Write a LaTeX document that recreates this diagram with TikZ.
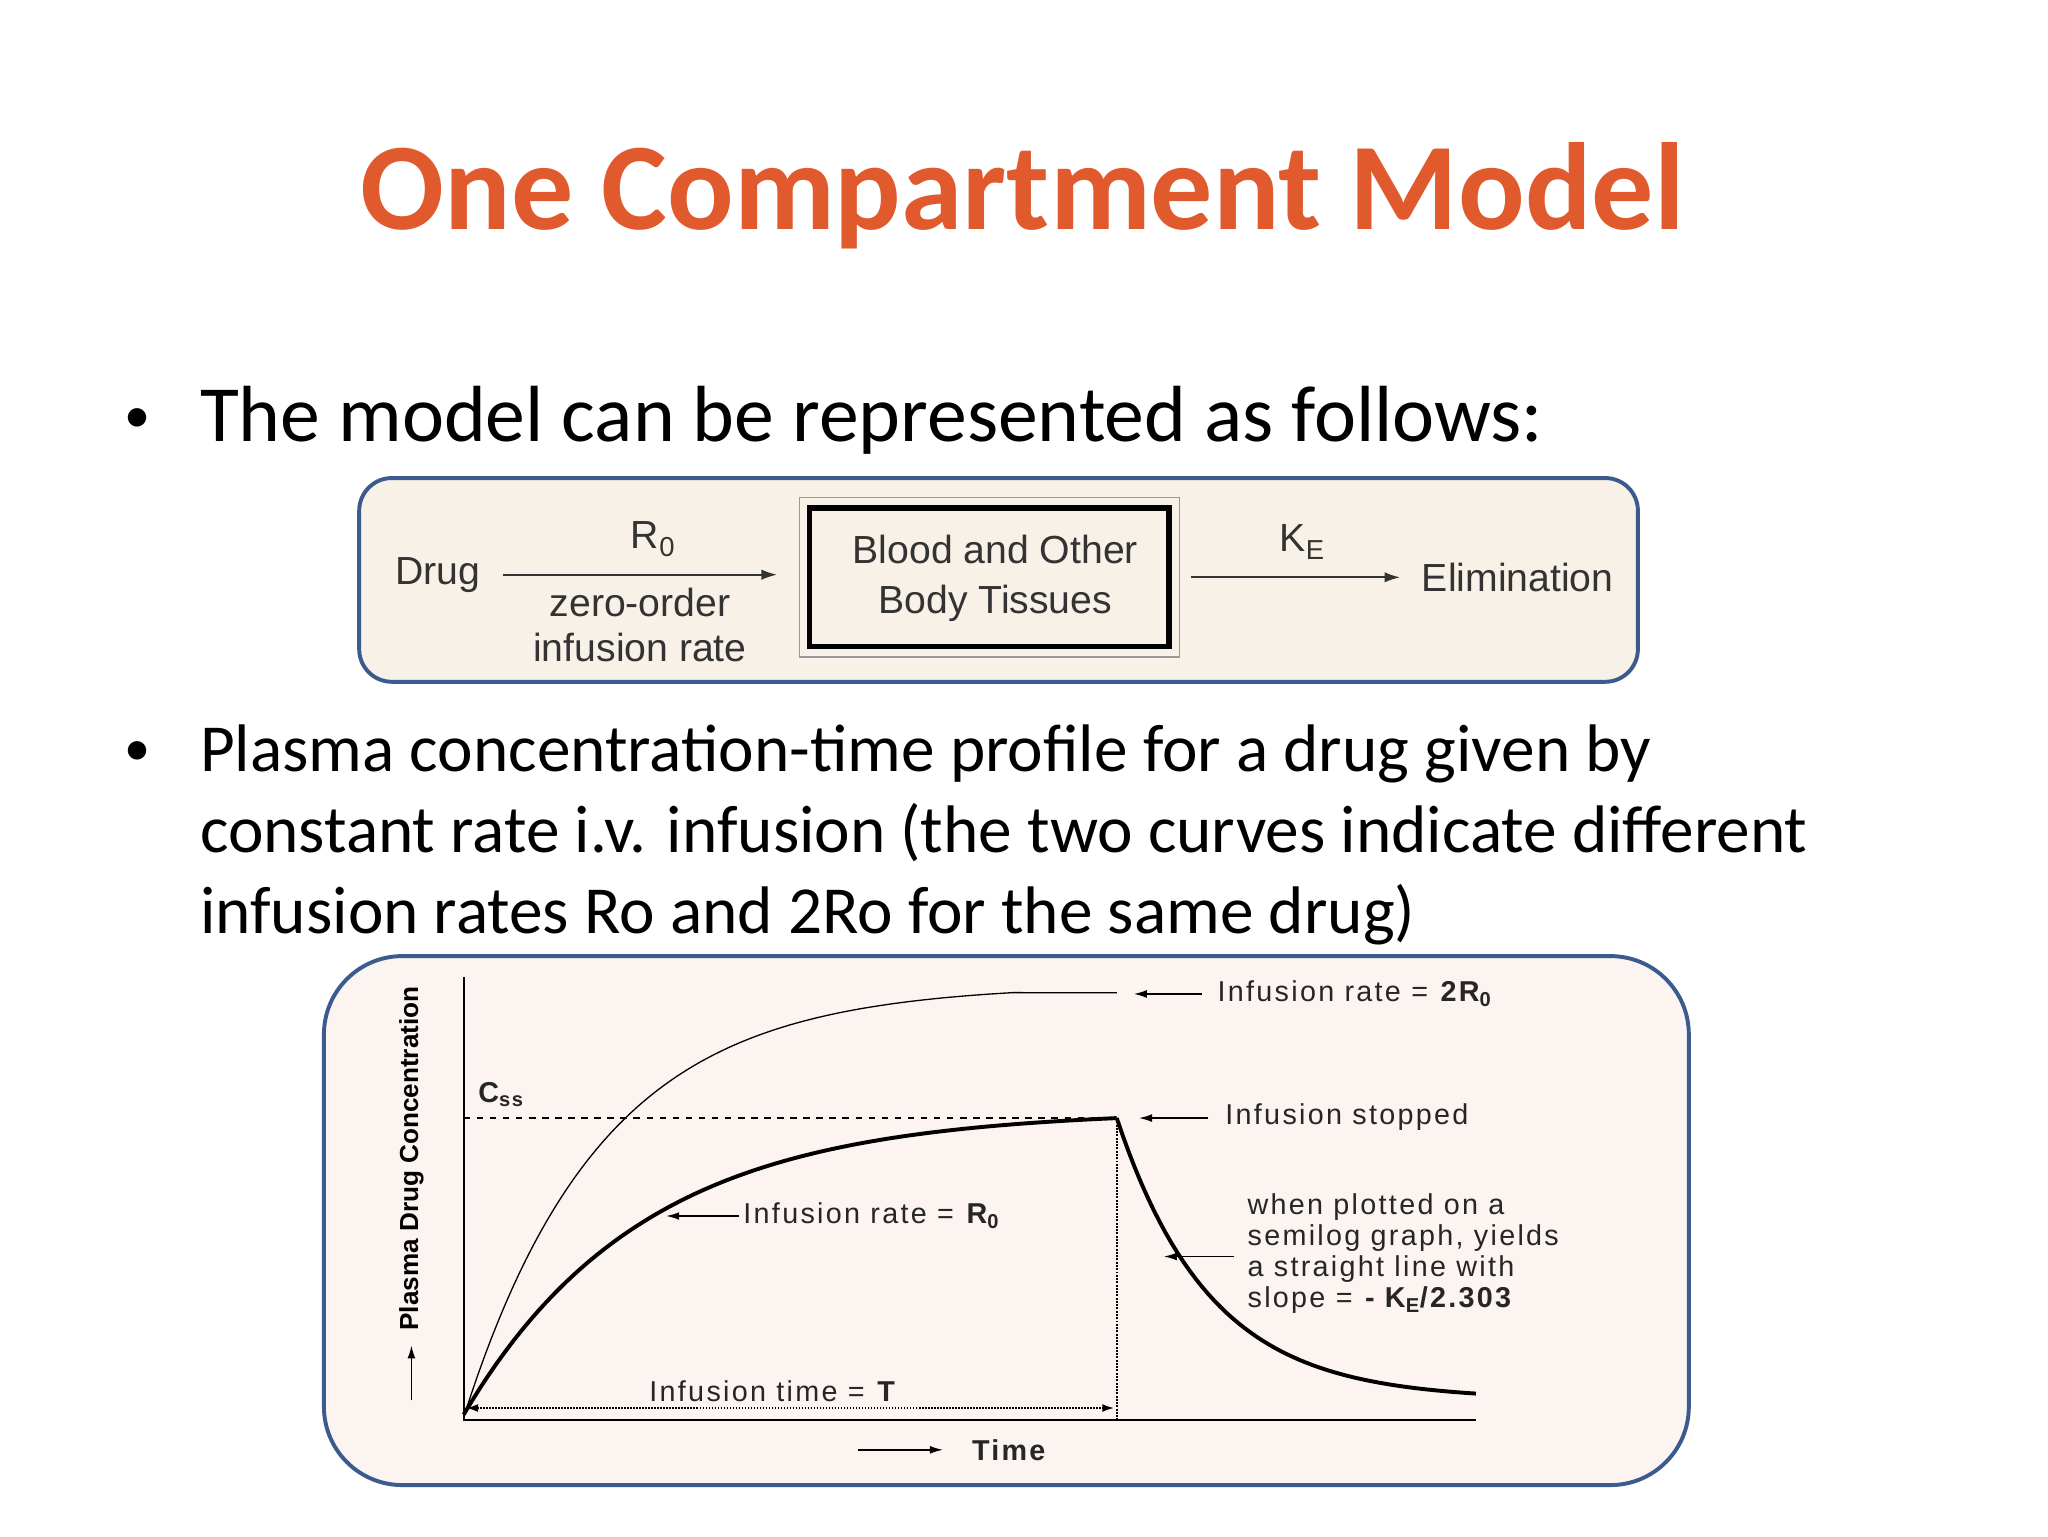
\documentclass[tikz,border=0pt]{standalone}
\usepackage{fontspec}
\setmainfont{Carlito}
\newfontfamily\lsans{Liberation Sans}
\newfontfamily\wsans[LetterSpace=8]{Liberation Sans}
\usetikzlibrary{arrows.meta}
\definecolor{titlec}{HTML}{E05A2E}
\definecolor{boxb}{HTML}{3B5A8E}
\definecolor{cream}{HTML}{F8F1E7}
\definecolor{pinkc}{HTML}{FBF4F1}
\tikzset{
 lbl/.style={font=\lsans\fontsize{30}{34}\selectfont, text=black!80, inner sep=0pt},
 glbl/.style={font=\wsans\fontsize{22}{25}\selectfont, text=black!85, inner sep=0pt, anchor=west},
 arr/.style={-{Latex[length=12pt,width=8pt]}, line width=1.5pt, black!80},
 sarr/.style={-{Latex[length=10pt,width=6pt]}, line width=1.2pt},
}
\begin{document}
\begin{tikzpicture}[x=1pt,y=-1pt]
\useasboundingbox (0,0) rectangle (1568,1176);
\fill[white] (0,0) rectangle (1568,1176);
\node (title) at (783,150) {\fontsize{95}{107}\selectfont\bfseries\color{titlec}One Compartment Model};
\node[anchor=west, font=\fontsize{40}{40}\selectfont] (dot1) at (92,322) {•};
\node[anchor=west, inner sep=0pt] (b1) at (153,322) {\fontsize{61}{66}\selectfont The model can be represented as follows:};
% box 1
\draw[boxb, line width=3pt, fill=cream, rounded corners=25pt] (275,366) rectangle (1254,522);
\node[lbl] (drug) at (335,440) {Drug};
\coordinate (a1s) at (385,440); \coordinate (a1e) at (595,440);
\draw[arr] (a1s) -- (a1e);
\node[lbl] (r0) at (500,413) {R\textsubscript{0}};
\node[lbl] (zo) at (490,461) {zero-order};
\node[lbl] (ir) at (490,496) {infusion rate};
\draw[black!40, line width=1pt] (612,381) rectangle (903,503);
\draw[black, line width=4pt] (620,389) rectangle (895,495);
\node[lbl, align=center] (blood) at (762,443) {Blood and Other\\[4pt]Body Tissues};
\coordinate (a2s) at (912,442); \coordinate (a2e) at (1072,442);
\draw[arr] (a2s) -- (a2e);
\node[lbl] (ke) at (997,415) {K\textsubscript{E}};
\node[lbl] (elim) at (1162,442) {Elimination};
% bullet 2
\node[anchor=west, font=\fontsize{40}{40}\selectfont] (dot2) at (92,577) {•};
\node[anchor=north west, align=left, font=\fontsize{51.5}{62}\selectfont, inner sep=0pt] (b2) at (153,555) {Plasma concentration-time profile for a drug given by\\
constant rate i.v. infusion (the two curves indicate different\\
infusion rates Ro and 2Ro for the same drug)};
% box 2
\draw[boxb, line width=3pt, fill=pinkc, rounded corners=60pt] (248,732) rectangle (1293,1137);
\coordinate (o) at (355,1087);
\coordinate (ytop) at (355,748);
\coordinate (xend) at (1130,1087);
\draw[line width=1.3pt] (ytop) -- (o) -- (xend);
\coordinate (css1) at (355,856); \coordinate (stop) at (855,856);
\draw[line width=1pt, dash pattern=on 5pt off 5pt] (css1) -- (stop);
\draw[densely dotted, line width=1.5pt] (stop) -- (855,1087);
% thin curve
\draw[line width=1pt] plot[domain=0:420, samples=80] ({355+\x},{1085-325*(1-exp(-0.0095*\x))/0.9815}) -- (855,760);
% thick curve
\draw[line width=3pt] plot[domain=0:500, samples=80] ({355+\x},{1083-227*(1-exp(-0.0073*\x))/0.974});
\draw[line width=3pt] plot[domain=0:275, samples=60] ({855+\x},{856+211*(1-exp(-0.014*\x))/0.979});
% infusion time
\coordinate (it1) at (357,1078); \coordinate (it2) at (853,1078);
\draw[densely dotted, line width=1.3pt, {Latex[length=9pt,width=6pt]}-{Latex[length=9pt,width=6pt]}] (it1) -- (it2);
\node[glbl] (itl) at (497,1065) {Infusion time = \textbf{T}};
\node[glbl] (cssl) at (366,838) {\textbf{C\textsubscript{ss}}};
% labels
\coordinate (l1s) at (920,761); \coordinate (l1e) at (868,761);
\draw[sarr] (l1s) -- (l1e);
\node[glbl] (l1) at (932,761) {Infusion rate = \textbf{2R\textsubscript{0}}};
\coordinate (l2s) at (925,856); \coordinate (l2e) at (872,856);
\draw[sarr] (l2s) -- (l2e);
\node[glbl] (l2) at (938,855) {Infusion stopped};
\coordinate (l3s) at (566,931); \coordinate (l3e) at (510,931);
\draw[sarr] (l3s) -- (l3e);
\node[glbl] (l3) at (569,931) {Infusion rate = \textbf{R\textsubscript{0}}};
\coordinate (l4s) at (945,962); \coordinate (l4e) at (891,962);
\draw[sarr] (l4s) -- (l4e);
\node[glbl, align=left, font=\wsans\fontsize{22}{23.7}\selectfont] (l4) at (955,960) {when plotted on a\\semilog graph, yields\\a straight line with\\slope = \textbf{- K\textsubscript{E}/2.303}};
% axis labels
\node[rotate=90, font=\lsans\bfseries\fontsize{20}{22}\selectfont, inner sep=0pt] (yl) at (315,887) {Plasma Drug Concentration};
\coordinate (ya1) at (315,1072); \coordinate (ya2) at (315,1030);
\draw[sarr] (ya1) -- (ya2);
\coordinate (xa1) at (657,1110); \coordinate (xa2) at (722,1110);
\draw[sarr] (xa1) -- (xa2);
\node[glbl, font=\wsans\bfseries\fontsize{22}{25}\selectfont] (time) at (744,1110) {Time};
\end{tikzpicture}
\end{document}
